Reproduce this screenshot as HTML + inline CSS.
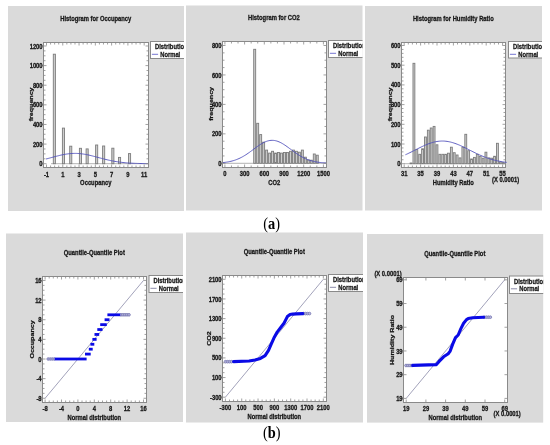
<!DOCTYPE html>
<html><head><meta charset="utf-8"><title>Histograms and Q-Q plots</title>
<style>html,body{margin:0;padding:0;background:#fff;width:550px;height:445px;overflow:hidden}svg{display:block;filter:blur(0.3px)}</style>
</head><body>
<svg width="550" height="445" viewBox="0 0 550 445"><defs><clipPath id="c1"><rect x="8" y="6" width="176" height="205"/></clipPath><clipPath id="c2"><rect x="186" y="5.5" width="176.5" height="205"/></clipPath><clipPath id="c3"><rect x="365" y="6" width="177" height="204.5"/></clipPath><clipPath id="qL4"><rect x="42.5" y="276.5" width="104" height="126"/></clipPath><clipPath id="L4"><rect x="6" y="233.5" width="177" height="188.5"/></clipPath><clipPath id="qL5"><rect x="222.5" y="275.5" width="104" height="126"/></clipPath><clipPath id="L5"><rect x="186" y="232.5" width="177" height="190"/></clipPath><clipPath id="qL6"><rect x="403.5" y="277.5" width="104" height="125"/></clipPath><clipPath id="L6"><rect x="367" y="234" width="176.2" height="188.6"/></clipPath></defs><rect width="550" height="445" fill="#fff"/><style>.t text{stroke:#161616;stroke-width:0.28px}</style><g class="t" font-family="'Liberation Sans', Arial, sans-serif" font-weight="bold" fill="#161616"><rect x="8" y="6" width="176" height="205" fill="#dadada"/>
<text transform="translate(95.8 20.6) scale(0.82 1)" text-anchor="middle" font-size="7.1">Histogram for Occupancy</text>
<rect x="43.5" y="42.5" width="105" height="125" fill="#fff" stroke="#8a8a8a" stroke-width="1"/>
<path d="M51 163.7H148.5" stroke="#a0a0a0" stroke-width="0.8"/>
<rect x="53.3" y="54.2" width="2.1" height="109.5" fill="#cdcdcd" stroke="#7c7c7c" stroke-width="0.9"/>
<rect x="62.4" y="128.1" width="2.1" height="35.6" fill="#cdcdcd" stroke="#7c7c7c" stroke-width="0.9"/>
<rect x="69.7" y="146.2" width="2.1" height="17.5" fill="#cdcdcd" stroke="#7c7c7c" stroke-width="0.9"/>
<rect x="79.4" y="148.3" width="2.1" height="15.4" fill="#cdcdcd" stroke="#7c7c7c" stroke-width="0.9"/>
<rect x="86.1" y="148.9" width="2.1" height="14.8" fill="#cdcdcd" stroke="#7c7c7c" stroke-width="0.9"/>
<rect x="95.6" y="145" width="2.1" height="18.7" fill="#cdcdcd" stroke="#7c7c7c" stroke-width="0.9"/>
<rect x="102.6" y="146" width="2.1" height="17.7" fill="#cdcdcd" stroke="#7c7c7c" stroke-width="0.9"/>
<rect x="111.8" y="148.2" width="2.1" height="15.5" fill="#cdcdcd" stroke="#7c7c7c" stroke-width="0.9"/>
<rect x="118.5" y="157.4" width="2.1" height="6.3" fill="#cdcdcd" stroke="#7c7c7c" stroke-width="0.9"/>
<rect x="128.5" y="153.6" width="2.1" height="10.1" fill="#cdcdcd" stroke="#7c7c7c" stroke-width="0.9"/>
<path d="M46.09 158.98 L47.22 158.69 L48.35 158.4 L49.48 158.1 L50.61 157.79 L51.74 157.49 L52.87 157.18 L54 156.88 L55.13 156.58 L56.26 156.28 L57.39 155.99 L58.52 155.71 L59.65 155.43 L60.78 155.17 L61.91 154.92 L63.04 154.69 L64.17 154.47 L65.3 154.27 L66.43 154.08 L67.56 153.92 L68.69 153.77 L69.82 153.65 L70.95 153.56 L72.08 153.48 L73.21 153.43 L74.34 153.4 L75.48 153.4 L76.61 153.42 L77.74 153.47 L78.87 153.54 L80 153.64 L81.13 153.76 L82.26 153.9 L83.39 154.06 L84.52 154.24 L85.65 154.44 L86.78 154.65 L87.91 154.89 L89.04 155.14 L90.17 155.4 L91.3 155.67 L92.43 155.95 L93.56 156.24 L94.69 156.53 L95.82 156.84 L96.95 157.14 L98.08 157.44 L99.21 157.75 L100.34 158.05 L101.47 158.35 L102.6 158.65 L103.73 158.94 L104.86 159.23 L105.99 159.51 L107.12 159.78 L108.25 160.04 L109.38 160.29 L110.51 160.54 L111.64 160.77 L112.77 160.99 L113.9 161.2 L115.03 161.4 L116.16 161.59 L117.29 161.77 L118.42 161.94 L119.55 162.09 L120.68 162.24 L121.81 162.37 L122.94 162.5 L124.07 162.62 L125.2 162.73 L126.33 162.83 L127.46 162.92 L128.59 163 L129.72 163.08 L130.85 163.14 L131.98 163.21 L133.11 163.26 L134.24 163.31 L135.37 163.36 L136.5 163.4 L137.63 163.44 L138.76 163.47 L139.89 163.5 L141.02 163.53 L142.15 163.55 L143.28 163.57 L144.41 163.59 L145.54 163.6 L146.67 163.62 L147.8 163.63" stroke="#5050bb" stroke-width="0.9" fill="none"/>
<path d="M42 163.7h4.5M148.5 163.7h-3M42 144.08h4.5M148.5 144.08h-3M42 124.46h4.5M148.5 124.46h-3M42 104.84h4.5M148.5 104.84h-3M42 85.22h4.5M148.5 85.22h-3M42 65.6h4.5M148.5 65.6h-3M42 45.98h4.5M148.5 45.98h-3M43.5 158.79h2M148.5 158.79h-2M43.5 153.89h2M148.5 153.89h-2M43.5 148.98h2M148.5 148.98h-2M43.5 139.17h2M148.5 139.17h-2M43.5 134.27h2M148.5 134.27h-2M43.5 129.36h2M148.5 129.36h-2M43.5 119.55h2M148.5 119.55h-2M43.5 114.65h2M148.5 114.65h-2M43.5 109.74h2M148.5 109.74h-2M43.5 99.93h2M148.5 99.93h-2M43.5 95.03h2M148.5 95.03h-2M43.5 90.12h2M148.5 90.12h-2M43.5 80.31h2M148.5 80.31h-2M43.5 75.41h2M148.5 75.41h-2M43.5 70.5h2M148.5 70.5h-2M43.5 60.69h2M148.5 60.69h-2M43.5 55.79h2M148.5 55.79h-2M43.5 50.88h2M148.5 50.88h-2M46.5 167.5v-3M46.5 42.5v3M62.78 167.5v-3M62.78 42.5v3M79.06 167.5v-3M79.06 42.5v3M95.34 167.5v-3M95.34 42.5v3M111.62 167.5v-3M111.62 42.5v3M127.9 167.5v-3M127.9 42.5v3M144.18 167.5v-3M144.18 42.5v3M50.57 167.5v-2M50.57 42.5v2M54.64 167.5v-2M54.64 42.5v2M58.71 167.5v-2M58.71 42.5v2M66.85 167.5v-2M66.85 42.5v2M70.92 167.5v-2M70.92 42.5v2M74.99 167.5v-2M74.99 42.5v2M83.13 167.5v-2M83.13 42.5v2M87.2 167.5v-2M87.2 42.5v2M91.27 167.5v-2M91.27 42.5v2M99.41 167.5v-2M99.41 42.5v2M103.48 167.5v-2M103.48 42.5v2M107.55 167.5v-2M107.55 42.5v2M115.69 167.5v-2M115.69 42.5v2M119.76 167.5v-2M119.76 42.5v2M123.83 167.5v-2M123.83 42.5v2M131.97 167.5v-2M131.97 42.5v2M136.04 167.5v-2M136.04 42.5v2M140.11 167.5v-2M140.11 42.5v2" stroke="#8a8a8a" stroke-width="0.8" fill="none"/>
<text transform="translate(42.6 166.25) scale(0.82 1)" text-anchor="end" font-size="7.1">0</text>
<text transform="translate(42.6 146.63) scale(0.82 1)" text-anchor="end" font-size="7.1">200</text>
<text transform="translate(42.6 127.01) scale(0.82 1)" text-anchor="end" font-size="7.1">400</text>
<text transform="translate(42.6 107.39) scale(0.82 1)" text-anchor="end" font-size="7.1">600</text>
<text transform="translate(42.6 87.77) scale(0.82 1)" text-anchor="end" font-size="7.1">800</text>
<text transform="translate(42.6 68.15) scale(0.82 1)" text-anchor="end" font-size="7.1">1000</text>
<text transform="translate(42.6 48.53) scale(0.82 1)" text-anchor="end" font-size="7.1">1200</text>
<text transform="translate(46.5 176.6) scale(0.82 1)" text-anchor="middle" font-size="7.1">-1</text>
<text transform="translate(62.78 176.6) scale(0.82 1)" text-anchor="middle" font-size="7.1">1</text>
<text transform="translate(79.06 176.6) scale(0.82 1)" text-anchor="middle" font-size="7.1">3</text>
<text transform="translate(95.34 176.6) scale(0.82 1)" text-anchor="middle" font-size="7.1">5</text>
<text transform="translate(111.62 176.6) scale(0.82 1)" text-anchor="middle" font-size="7.1">7</text>
<text transform="translate(127.9 176.6) scale(0.82 1)" text-anchor="middle" font-size="7.1">9</text>
<text transform="translate(144.18 176.6) scale(0.82 1)" text-anchor="middle" font-size="7.1">11</text>
<text transform="translate(95.8 185.1) scale(0.82 1)" text-anchor="middle" font-size="7.1">Occupancy</text>
<text transform="translate(33.2 104.4) rotate(-90) scale(1 0.82)" text-anchor="middle" font-size="7.1">frequency</text>
<g clip-path="url(#c1)">
<rect x="150.5" y="41.5" width="43.5" height="17" fill="#fff" stroke="#8a8a8a" stroke-width="1"/>
<text transform="translate(155 49.1) scale(0.82 1)" text-anchor="start" font-size="7.1">Distribution</text>
<path d="M151.9 54.3h6.2" stroke="#7676d2" stroke-width="1"/>
<text transform="translate(160.2 56.5) scale(0.82 1)" text-anchor="start" font-size="7.1">Normal</text>
</g>
<rect x="186" y="5.5" width="176.5" height="205" fill="#dadada"/>
<text transform="translate(273.9 19.9) scale(0.82 1)" text-anchor="middle" font-size="7.1">Histogram for CO2</text>
<rect x="222.5" y="41.5" width="104" height="126" fill="#fff" stroke="#8a8a8a" stroke-width="1"/>
<path d="M222.5 163.3H326.5" stroke="#a0a0a0" stroke-width="0.8"/>
<rect x="253.7" y="49.3" width="1.98" height="114" fill="#cdcdcd" stroke="#7c7c7c" stroke-width="0.9"/>
<rect x="256.68" y="123.3" width="1.98" height="40" fill="#cdcdcd" stroke="#7c7c7c" stroke-width="0.9"/>
<rect x="259.66" y="134.6" width="1.98" height="28.7" fill="#cdcdcd" stroke="#7c7c7c" stroke-width="0.9"/>
<rect x="262.64" y="142.2" width="1.98" height="21.1" fill="#cdcdcd" stroke="#7c7c7c" stroke-width="0.9"/>
<rect x="265.62" y="150.1" width="1.98" height="13.2" fill="#cdcdcd" stroke="#7c7c7c" stroke-width="0.9"/>
<rect x="268.6" y="153.1" width="1.98" height="10.2" fill="#cdcdcd" stroke="#7c7c7c" stroke-width="0.9"/>
<rect x="271.58" y="151.3" width="1.98" height="12" fill="#cdcdcd" stroke="#7c7c7c" stroke-width="0.9"/>
<rect x="274.56" y="153.1" width="1.98" height="10.2" fill="#cdcdcd" stroke="#7c7c7c" stroke-width="0.9"/>
<rect x="277.54" y="152.5" width="1.98" height="10.8" fill="#cdcdcd" stroke="#7c7c7c" stroke-width="0.9"/>
<rect x="280.52" y="153.1" width="1.98" height="10.2" fill="#cdcdcd" stroke="#7c7c7c" stroke-width="0.9"/>
<rect x="283.5" y="152.5" width="1.98" height="10.8" fill="#cdcdcd" stroke="#7c7c7c" stroke-width="0.9"/>
<rect x="286.48" y="152.5" width="1.98" height="10.8" fill="#cdcdcd" stroke="#7c7c7c" stroke-width="0.9"/>
<rect x="289.46" y="151.3" width="1.98" height="12" fill="#cdcdcd" stroke="#7c7c7c" stroke-width="0.9"/>
<rect x="292.44" y="150.1" width="1.98" height="13.2" fill="#cdcdcd" stroke="#7c7c7c" stroke-width="0.9"/>
<rect x="295.42" y="151.3" width="1.98" height="12" fill="#cdcdcd" stroke="#7c7c7c" stroke-width="0.9"/>
<rect x="298.4" y="152.2" width="1.98" height="11.1" fill="#cdcdcd" stroke="#7c7c7c" stroke-width="0.9"/>
<rect x="301.38" y="150.1" width="1.98" height="13.2" fill="#cdcdcd" stroke="#7c7c7c" stroke-width="0.9"/>
<rect x="304.36" y="157.2" width="1.98" height="6.1" fill="#cdcdcd" stroke="#7c7c7c" stroke-width="0.9"/>
<rect x="307.34" y="160" width="1.98" height="3.3" fill="#cdcdcd" stroke="#7c7c7c" stroke-width="0.9"/>
<rect x="310.32" y="160.2" width="1.98" height="3.1" fill="#cdcdcd" stroke="#7c7c7c" stroke-width="0.9"/>
<rect x="313.3" y="154" width="1.98" height="9.3" fill="#cdcdcd" stroke="#7c7c7c" stroke-width="0.9"/>
<rect x="316.28" y="155.2" width="1.98" height="8.1" fill="#cdcdcd" stroke="#7c7c7c" stroke-width="0.9"/>
<path d="M222.93 162.59 L224.08 162.47 L225.22 162.33 L226.37 162.17 L227.51 161.98 L228.66 161.78 L229.8 161.55 L230.95 161.29 L232.09 161 L233.24 160.68 L234.39 160.33 L235.53 159.95 L236.68 159.52 L237.82 159.06 L238.97 158.57 L240.11 158.03 L241.26 157.46 L242.4 156.84 L243.55 156.19 L244.69 155.51 L245.84 154.79 L246.99 154.03 L248.13 153.25 L249.28 152.45 L250.42 151.62 L251.57 150.78 L252.71 149.93 L253.86 149.07 L255 148.22 L256.15 147.38 L257.3 146.55 L258.44 145.74 L259.59 144.97 L260.73 144.23 L261.88 143.54 L263.02 142.9 L264.17 142.32 L265.31 141.81 L266.46 141.36 L267.61 140.99 L268.75 140.7 L269.9 140.49 L271.04 140.37 L272.19 140.33 L273.33 140.38 L274.48 140.51 L275.62 140.73 L276.77 141.03 L277.91 141.41 L279.06 141.87 L280.21 142.39 L281.35 142.98 L282.5 143.63 L283.64 144.32 L284.79 145.07 L285.93 145.84 L287.08 146.65 L288.22 147.48 L289.37 148.33 L290.52 149.18 L291.66 150.04 L292.81 150.89 L293.95 151.73 L295.1 152.55 L296.24 153.35 L297.39 154.13 L298.53 154.88 L299.68 155.6 L300.83 156.28 L301.97 156.92 L303.12 157.53 L304.26 158.1 L305.41 158.63 L306.55 159.12 L307.7 159.58 L308.84 160 L309.99 160.38 L311.13 160.73 L312.28 161.04 L313.43 161.32 L314.57 161.58 L315.72 161.81 L316.86 162.01 L318.01 162.19 L319.15 162.35 L320.3 162.48 L321.44 162.61 L322.59 162.71 L323.74 162.8 L324.88 162.88 L326.03 162.95" stroke="#5050bb" stroke-width="0.9" fill="none"/>
<path d="M221 163.3h4.5M326.5 163.3h-3M221 133.85h4.5M326.5 133.85h-3M221 104.4h4.5M326.5 104.4h-3M221 74.95h4.5M326.5 74.95h-3M221 45.5h4.5M326.5 45.5h-3M222.5 155.94h2M326.5 155.94h-2M222.5 148.58h2M326.5 148.58h-2M222.5 141.21h2M326.5 141.21h-2M222.5 126.49h2M326.5 126.49h-2M222.5 119.13h2M326.5 119.13h-2M222.5 111.76h2M326.5 111.76h-2M222.5 97.04h2M326.5 97.04h-2M222.5 89.68h2M326.5 89.68h-2M222.5 82.31h2M326.5 82.31h-2M222.5 67.59h2M326.5 67.59h-2M222.5 60.23h2M326.5 60.23h-2M222.5 52.86h2M326.5 52.86h-2M224.9 167.5v-3M224.9 41.5v3M244.6 167.5v-3M244.6 41.5v3M264.3 167.5v-3M264.3 41.5v3M284 167.5v-3M284 41.5v3M303.7 167.5v-3M303.7 41.5v3M323.4 167.5v-3M323.4 41.5v3M231.47 167.5v-2M231.47 41.5v2M238.03 167.5v-2M238.03 41.5v2M251.17 167.5v-2M251.17 41.5v2M257.73 167.5v-2M257.73 41.5v2M270.87 167.5v-2M270.87 41.5v2M277.43 167.5v-2M277.43 41.5v2M290.57 167.5v-2M290.57 41.5v2M297.13 167.5v-2M297.13 41.5v2M310.27 167.5v-2M310.27 41.5v2M316.83 167.5v-2M316.83 41.5v2" stroke="#8a8a8a" stroke-width="0.8" fill="none"/>
<text transform="translate(221.6 165.85) scale(0.82 1)" text-anchor="end" font-size="7.1">0</text>
<text transform="translate(221.6 136.4) scale(0.82 1)" text-anchor="end" font-size="7.1">200</text>
<text transform="translate(221.6 106.95) scale(0.82 1)" text-anchor="end" font-size="7.1">400</text>
<text transform="translate(221.6 77.5) scale(0.82 1)" text-anchor="end" font-size="7.1">600</text>
<text transform="translate(221.6 48.05) scale(0.82 1)" text-anchor="end" font-size="7.1">800</text>
<text transform="translate(224.9 176) scale(0.82 1)" text-anchor="middle" font-size="7.1">0</text>
<text transform="translate(244.6 176) scale(0.82 1)" text-anchor="middle" font-size="7.1">300</text>
<text transform="translate(264.3 176) scale(0.82 1)" text-anchor="middle" font-size="7.1">600</text>
<text transform="translate(284 176) scale(0.82 1)" text-anchor="middle" font-size="7.1">900</text>
<text transform="translate(303.7 176) scale(0.82 1)" text-anchor="middle" font-size="7.1">1200</text>
<text transform="translate(323.4 176) scale(0.82 1)" text-anchor="middle" font-size="7.1">1500</text>
<text transform="translate(274.3 184.5) scale(0.82 1)" text-anchor="middle" font-size="7.1">CO2</text>
<text transform="translate(212.8 103.9) rotate(-90) scale(1 0.82)" text-anchor="middle" font-size="7.1">frequency</text>
<g clip-path="url(#c2)">
<rect x="328.5" y="40.5" width="44" height="17" fill="#fff" stroke="#8a8a8a" stroke-width="1"/>
<text transform="translate(333 48.1) scale(0.82 1)" text-anchor="start" font-size="7.1">Distribution</text>
<path d="M329.9 53.3h6.2" stroke="#7676d2" stroke-width="1"/>
<text transform="translate(338.2 55.5) scale(0.82 1)" text-anchor="start" font-size="7.1">Normal</text>
</g>
<rect x="365" y="6" width="177" height="204.5" fill="#dadada"/>
<text transform="translate(453.3 20.6) scale(0.82 1)" text-anchor="middle" font-size="7.1">Histogram for Humidity Ratio</text>
<rect x="401.5" y="42.5" width="104" height="125" fill="#fff" stroke="#8a8a8a" stroke-width="1"/>
<path d="M404 163.7H505.5" stroke="#a0a0a0" stroke-width="0.8"/>
<rect x="410.1" y="163" width="1.88" height="0.7" fill="#cdcdcd" stroke="#7c7c7c" stroke-width="0.9"/>
<rect x="412.98" y="63.3" width="1.88" height="100.4" fill="#cdcdcd" stroke="#7c7c7c" stroke-width="0.9"/>
<rect x="415.86" y="149.6" width="1.88" height="14.1" fill="#cdcdcd" stroke="#7c7c7c" stroke-width="0.9"/>
<rect x="418.74" y="154.3" width="1.88" height="9.4" fill="#cdcdcd" stroke="#7c7c7c" stroke-width="0.9"/>
<rect x="421.62" y="148.8" width="1.88" height="14.9" fill="#cdcdcd" stroke="#7c7c7c" stroke-width="0.9"/>
<rect x="424.5" y="137" width="1.88" height="26.7" fill="#cdcdcd" stroke="#7c7c7c" stroke-width="0.9"/>
<rect x="427.38" y="130.2" width="1.88" height="33.5" fill="#cdcdcd" stroke="#7c7c7c" stroke-width="0.9"/>
<rect x="430.26" y="128" width="1.88" height="35.7" fill="#cdcdcd" stroke="#7c7c7c" stroke-width="0.9"/>
<rect x="433.14" y="126.4" width="1.88" height="37.3" fill="#cdcdcd" stroke="#7c7c7c" stroke-width="0.9"/>
<rect x="436.02" y="144.8" width="1.88" height="18.9" fill="#cdcdcd" stroke="#7c7c7c" stroke-width="0.9"/>
<rect x="438.9" y="154.3" width="1.88" height="9.4" fill="#cdcdcd" stroke="#7c7c7c" stroke-width="0.9"/>
<rect x="441.78" y="154.3" width="1.88" height="9.4" fill="#cdcdcd" stroke="#7c7c7c" stroke-width="0.9"/>
<rect x="444.66" y="154.3" width="1.88" height="9.4" fill="#cdcdcd" stroke="#7c7c7c" stroke-width="0.9"/>
<rect x="447.54" y="153.2" width="1.88" height="10.5" fill="#cdcdcd" stroke="#7c7c7c" stroke-width="0.9"/>
<rect x="450.42" y="147.2" width="1.88" height="16.5" fill="#cdcdcd" stroke="#7c7c7c" stroke-width="0.9"/>
<rect x="453.3" y="152.7" width="1.88" height="11" fill="#cdcdcd" stroke="#7c7c7c" stroke-width="0.9"/>
<rect x="456.18" y="155" width="1.88" height="8.7" fill="#cdcdcd" stroke="#7c7c7c" stroke-width="0.9"/>
<rect x="459.06" y="157.9" width="1.88" height="5.8" fill="#cdcdcd" stroke="#7c7c7c" stroke-width="0.9"/>
<rect x="461.94" y="147.2" width="1.88" height="16.5" fill="#cdcdcd" stroke="#7c7c7c" stroke-width="0.9"/>
<rect x="464.82" y="134.3" width="1.88" height="29.4" fill="#cdcdcd" stroke="#7c7c7c" stroke-width="0.9"/>
<rect x="467.7" y="150.7" width="1.88" height="13" fill="#cdcdcd" stroke="#7c7c7c" stroke-width="0.9"/>
<rect x="470.58" y="159" width="1.88" height="4.7" fill="#cdcdcd" stroke="#7c7c7c" stroke-width="0.9"/>
<rect x="473.46" y="157.4" width="1.88" height="6.3" fill="#cdcdcd" stroke="#7c7c7c" stroke-width="0.9"/>
<rect x="476.34" y="154.3" width="1.88" height="9.4" fill="#cdcdcd" stroke="#7c7c7c" stroke-width="0.9"/>
<rect x="479.22" y="156.3" width="1.88" height="7.4" fill="#cdcdcd" stroke="#7c7c7c" stroke-width="0.9"/>
<rect x="482.1" y="158.2" width="1.88" height="5.5" fill="#cdcdcd" stroke="#7c7c7c" stroke-width="0.9"/>
<rect x="484.98" y="152.2" width="1.88" height="11.5" fill="#cdcdcd" stroke="#7c7c7c" stroke-width="0.9"/>
<rect x="487.86" y="157.9" width="1.88" height="5.8" fill="#cdcdcd" stroke="#7c7c7c" stroke-width="0.9"/>
<rect x="490.74" y="158.2" width="1.88" height="5.5" fill="#cdcdcd" stroke="#7c7c7c" stroke-width="0.9"/>
<rect x="493.62" y="156.3" width="1.88" height="7.4" fill="#cdcdcd" stroke="#7c7c7c" stroke-width="0.9"/>
<rect x="496.5" y="143.3" width="1.88" height="20.4" fill="#cdcdcd" stroke="#7c7c7c" stroke-width="0.9"/>
<rect x="499.38" y="162" width="1.88" height="1.7" fill="#cdcdcd" stroke="#7c7c7c" stroke-width="0.9"/>
<rect x="502.26" y="162.6" width="1.88" height="1.1" fill="#cdcdcd" stroke="#7c7c7c" stroke-width="0.9"/>
<path d="M405.43 154.76 L406.56 154.25 L407.68 153.72 L408.81 153.18 L409.93 152.64 L411.06 152.08 L412.18 151.52 L413.31 150.95 L414.43 150.38 L415.56 149.81 L416.68 149.24 L417.81 148.67 L418.93 148.11 L420.06 147.55 L421.18 147.01 L422.31 146.47 L423.43 145.95 L424.56 145.44 L425.68 144.95 L426.81 144.48 L427.93 144.03 L429.06 143.61 L430.18 143.22 L431.31 142.85 L432.44 142.51 L433.56 142.2 L434.69 141.93 L435.81 141.69 L436.94 141.49 L438.06 141.33 L439.19 141.2 L440.31 141.11 L441.44 141.06 L442.56 141.05 L443.69 141.07 L444.81 141.14 L445.94 141.25 L447.06 141.39 L448.19 141.57 L449.31 141.79 L450.44 142.04 L451.56 142.33 L452.69 142.65 L453.81 143 L454.94 143.38 L456.06 143.78 L457.19 144.22 L458.32 144.67 L459.44 145.15 L460.57 145.65 L461.69 146.16 L462.82 146.69 L463.94 147.23 L465.07 147.78 L466.19 148.34 L467.32 148.91 L468.44 149.48 L469.57 150.05 L470.69 150.62 L471.82 151.19 L472.94 151.75 L474.07 152.31 L475.19 152.86 L476.32 153.41 L477.44 153.94 L478.57 154.46 L479.69 154.97 L480.82 155.46 L481.95 155.94 L483.07 156.41 L484.2 156.85 L485.32 157.29 L486.45 157.7 L487.57 158.1 L488.7 158.48 L489.82 158.84 L490.95 159.19 L492.07 159.52 L493.2 159.83 L494.32 160.12 L495.45 160.4 L496.57 160.66 L497.7 160.91 L498.82 161.14 L499.95 161.35 L501.07 161.55 L502.2 161.74 L503.32 161.91 L504.45 162.08 L505.57 162.22 L506.7 162.36" stroke="#5050bb" stroke-width="0.9" fill="none"/>
<path d="M400 163.7h4.5M505.5 163.7h-3M400 144h4.5M505.5 144h-3M400 124.3h4.5M505.5 124.3h-3M400 104.6h4.5M505.5 104.6h-3M400 84.9h4.5M505.5 84.9h-3M400 65.2h4.5M505.5 65.2h-3M400 45.5h4.5M505.5 45.5h-3M401.5 159.76h2M505.5 159.76h-2M401.5 155.82h2M505.5 155.82h-2M401.5 151.88h2M505.5 151.88h-2M401.5 147.94h2M505.5 147.94h-2M401.5 140.06h2M505.5 140.06h-2M401.5 136.12h2M505.5 136.12h-2M401.5 132.18h2M505.5 132.18h-2M401.5 128.24h2M505.5 128.24h-2M401.5 120.36h2M505.5 120.36h-2M401.5 116.42h2M505.5 116.42h-2M401.5 112.48h2M505.5 112.48h-2M401.5 108.54h2M505.5 108.54h-2M401.5 100.66h2M505.5 100.66h-2M401.5 96.72h2M505.5 96.72h-2M401.5 92.78h2M505.5 92.78h-2M401.5 88.84h2M505.5 88.84h-2M401.5 80.96h2M505.5 80.96h-2M401.5 77.02h2M505.5 77.02h-2M401.5 73.08h2M505.5 73.08h-2M401.5 69.14h2M505.5 69.14h-2M401.5 61.26h2M505.5 61.26h-2M401.5 57.32h2M505.5 57.32h-2M401.5 53.38h2M505.5 53.38h-2M401.5 49.44h2M505.5 49.44h-2M404.2 167.5v-3M404.2 42.5v3M420.6 167.5v-3M420.6 42.5v3M437 167.5v-3M437 42.5v3M453.4 167.5v-3M453.4 42.5v3M469.8 167.5v-3M469.8 42.5v3M486.2 167.5v-3M486.2 42.5v3M502.6 167.5v-3M502.6 42.5v3M408.3 167.5v-2M408.3 42.5v2M412.4 167.5v-2M412.4 42.5v2M416.5 167.5v-2M416.5 42.5v2M424.7 167.5v-2M424.7 42.5v2M428.8 167.5v-2M428.8 42.5v2M432.9 167.5v-2M432.9 42.5v2M441.1 167.5v-2M441.1 42.5v2M445.2 167.5v-2M445.2 42.5v2M449.3 167.5v-2M449.3 42.5v2M457.5 167.5v-2M457.5 42.5v2M461.6 167.5v-2M461.6 42.5v2M465.7 167.5v-2M465.7 42.5v2M473.9 167.5v-2M473.9 42.5v2M478 167.5v-2M478 42.5v2M482.1 167.5v-2M482.1 42.5v2M490.3 167.5v-2M490.3 42.5v2M494.4 167.5v-2M494.4 42.5v2M498.5 167.5v-2M498.5 42.5v2" stroke="#8a8a8a" stroke-width="0.8" fill="none"/>
<text transform="translate(400.6 166.25) scale(0.82 1)" text-anchor="end" font-size="7.1">0</text>
<text transform="translate(400.6 146.55) scale(0.82 1)" text-anchor="end" font-size="7.1">100</text>
<text transform="translate(400.6 126.85) scale(0.82 1)" text-anchor="end" font-size="7.1">200</text>
<text transform="translate(400.6 107.15) scale(0.82 1)" text-anchor="end" font-size="7.1">300</text>
<text transform="translate(400.6 87.45) scale(0.82 1)" text-anchor="end" font-size="7.1">400</text>
<text transform="translate(400.6 67.75) scale(0.82 1)" text-anchor="end" font-size="7.1">500</text>
<text transform="translate(400.6 48.05) scale(0.82 1)" text-anchor="end" font-size="7.1">600</text>
<text transform="translate(404.2 176) scale(0.82 1)" text-anchor="middle" font-size="7.1">31</text>
<text transform="translate(420.6 176) scale(0.82 1)" text-anchor="middle" font-size="7.1">35</text>
<text transform="translate(437 176) scale(0.82 1)" text-anchor="middle" font-size="7.1">39</text>
<text transform="translate(453.4 176) scale(0.82 1)" text-anchor="middle" font-size="7.1">43</text>
<text transform="translate(469.8 176) scale(0.82 1)" text-anchor="middle" font-size="7.1">47</text>
<text transform="translate(486.2 176) scale(0.82 1)" text-anchor="middle" font-size="7.1">51</text>
<text transform="translate(502.6 176) scale(0.82 1)" text-anchor="middle" font-size="7.1">55</text>
<text transform="translate(453.3 184.5) scale(0.82 1)" text-anchor="middle" font-size="7.1">Humidity Ratio</text>
<text transform="translate(392.3 104.4) rotate(-90) scale(1 0.82)" text-anchor="middle" font-size="7.1">frequency</text>
<g clip-path="url(#c3)">
<rect x="508.5" y="41.5" width="43.5" height="16.5" fill="#fff" stroke="#8a8a8a" stroke-width="1"/>
<text transform="translate(513 49.1) scale(0.82 1)" text-anchor="start" font-size="7.1">Distribution</text>
<path d="M509.9 54.3h6.2" stroke="#7676d2" stroke-width="1"/>
<text transform="translate(518.2 56.5) scale(0.82 1)" text-anchor="start" font-size="7.1">Normal</text>
</g>
<text transform="translate(505.6 181.7) scale(0.82 1)" text-anchor="middle" font-size="7.1">(X 0.0001)</text>
<rect x="6" y="233.5" width="177" height="188.5" fill="#dadada"/>
<text transform="translate(94.3 254.9) scale(0.82 1)" text-anchor="middle" font-size="7.1">Quantile-Quantile Plot</text>
<rect x="42.5" y="276.5" width="104" height="126" fill="#fff" stroke="#8a8a8a" stroke-width="1"/>
<g clip-path="url(#qL4)">
<path d="M45.1 398.28L143.5 280.44" stroke="#8a8aa8" stroke-width="0.8"/>
<g fill="#b8b8e0" stroke="#6a6aa8" stroke-width="0.7"><circle cx="48.2" cy="359" r="1.35"/><circle cx="50.2" cy="359" r="1.35"/><circle cx="52.2" cy="359" r="1.35"/><circle cx="54.2" cy="359" r="1.35"/></g>
<g fill="#b8b8e0" stroke="#6a6aa8" stroke-width="0.7"><circle cx="121" cy="314.81" r="1.35"/><circle cx="123" cy="314.81" r="1.35"/><circle cx="125" cy="314.81" r="1.35"/><circle cx="127" cy="314.81" r="1.35"/><circle cx="129" cy="314.81" r="1.35"/></g>
<rect x="54.7" y="357.6" width="31.9" height="2.8" fill="#0a0ae6"/>
<rect x="85" y="352.69" width="5.7" height="2.8" fill="#0a0ae6"/>
<rect x="88.8" y="347.78" width="3.9" height="2.8" fill="#0a0ae6"/>
<rect x="90.4" y="342.87" width="3.9" height="2.8" fill="#0a0ae6"/>
<rect x="92.4" y="337.96" width="4.2" height="2.8" fill="#0a0ae6"/>
<rect x="94.5" y="333.05" width="4.7" height="2.8" fill="#0a0ae6"/>
<rect x="97.3" y="328.14" width="5.2" height="2.8" fill="#0a0ae6"/>
<rect x="100.2" y="323.23" width="6.6" height="2.8" fill="#0a0ae6"/>
<rect x="104.6" y="318.32" width="4.9" height="2.8" fill="#0a0ae6"/>
<rect x="107.4" y="313.41" width="12.8" height="2.8" fill="#0a0ae6"/>
</g>
<path d="M41 280.44h4.5M146.5 280.44h-3M41 300.08h4.5M146.5 300.08h-3M41 319.72h4.5M146.5 319.72h-3M41 339.36h4.5M146.5 339.36h-3M41 359h4.5M146.5 359h-3M41 378.64h4.5M146.5 378.64h-3M41 398.28h4.5M146.5 398.28h-3M42.5 393.37h2M146.5 393.37h-2M42.5 388.46h2M146.5 388.46h-2M42.5 383.55h2M146.5 383.55h-2M42.5 373.73h2M146.5 373.73h-2M42.5 368.82h2M146.5 368.82h-2M42.5 363.91h2M146.5 363.91h-2M42.5 354.09h2M146.5 354.09h-2M42.5 349.18h2M146.5 349.18h-2M42.5 344.27h2M146.5 344.27h-2M42.5 334.45h2M146.5 334.45h-2M42.5 329.54h2M146.5 329.54h-2M42.5 324.63h2M146.5 324.63h-2M42.5 314.81h2M146.5 314.81h-2M42.5 309.9h2M146.5 309.9h-2M42.5 304.99h2M146.5 304.99h-2M42.5 295.17h2M146.5 295.17h-2M42.5 290.26h2M146.5 290.26h-2M42.5 285.35h2M146.5 285.35h-2M45.1 402.5v-3M45.1 276.5v3M61.5 402.5v-3M61.5 276.5v3M77.9 402.5v-3M77.9 276.5v3M94.3 402.5v-3M94.3 276.5v3M110.7 402.5v-3M110.7 276.5v3M127.1 402.5v-3M127.1 276.5v3M143.5 402.5v-3M143.5 276.5v3M49.2 402.5v-2M49.2 276.5v2M53.3 402.5v-2M53.3 276.5v2M57.4 402.5v-2M57.4 276.5v2M65.6 402.5v-2M65.6 276.5v2M69.7 402.5v-2M69.7 276.5v2M73.8 402.5v-2M73.8 276.5v2M82 402.5v-2M82 276.5v2M86.1 402.5v-2M86.1 276.5v2M90.2 402.5v-2M90.2 276.5v2M98.4 402.5v-2M98.4 276.5v2M102.5 402.5v-2M102.5 276.5v2M106.6 402.5v-2M106.6 276.5v2M114.8 402.5v-2M114.8 276.5v2M118.9 402.5v-2M118.9 276.5v2M123 402.5v-2M123 276.5v2M131.2 402.5v-2M131.2 276.5v2M135.3 402.5v-2M135.3 276.5v2M139.4 402.5v-2M139.4 276.5v2" stroke="#8a8a8a" stroke-width="0.8" fill="none"/>
<text transform="translate(41.6 282.99) scale(0.82 1)" text-anchor="end" font-size="7.1">16</text>
<text transform="translate(41.6 302.63) scale(0.82 1)" text-anchor="end" font-size="7.1">12</text>
<text transform="translate(41.6 322.27) scale(0.82 1)" text-anchor="end" font-size="7.1">8</text>
<text transform="translate(41.6 341.91) scale(0.82 1)" text-anchor="end" font-size="7.1">4</text>
<text transform="translate(41.6 361.55) scale(0.82 1)" text-anchor="end" font-size="7.1">0</text>
<text transform="translate(41.6 381.19) scale(0.82 1)" text-anchor="end" font-size="7.1">-4</text>
<text transform="translate(41.6 400.83) scale(0.82 1)" text-anchor="end" font-size="7.1">-8</text>
<text transform="translate(45.1 411) scale(0.82 1)" text-anchor="middle" font-size="7.1">-8</text>
<text transform="translate(61.5 411) scale(0.82 1)" text-anchor="middle" font-size="7.1">-4</text>
<text transform="translate(77.9 411) scale(0.82 1)" text-anchor="middle" font-size="7.1">0</text>
<text transform="translate(94.3 411) scale(0.82 1)" text-anchor="middle" font-size="7.1">4</text>
<text transform="translate(110.7 411) scale(0.82 1)" text-anchor="middle" font-size="7.1">8</text>
<text transform="translate(127.1 411) scale(0.82 1)" text-anchor="middle" font-size="7.1">12</text>
<text transform="translate(143.5 411) scale(0.82 1)" text-anchor="middle" font-size="7.1">16</text>
<text transform="translate(94.3 419.6) scale(0.82 1)" text-anchor="middle" font-size="7.1">Normal distribution</text>
<text transform="translate(34 339.5) rotate(-90) scale(1 0.82)" text-anchor="middle" font-size="7.1">Occupancy</text>
<g clip-path="url(#L4)">
<rect x="149" y="275.5" width="44" height="17" fill="#fff" stroke="#8a8a8a" stroke-width="1"/>
<text transform="translate(153.5 283.1) scale(0.82 1)" text-anchor="start" font-size="7.1">Distribution</text>
<path d="M150.4 288.3h6.2" stroke="#8a8aa8" stroke-width="1"/>
<text transform="translate(158.7 290.5) scale(0.82 1)" text-anchor="start" font-size="7.1">Normal</text>
</g>
<rect x="186" y="232.5" width="177" height="190" fill="#dadada"/>
<text transform="translate(274.3 254) scale(0.82 1)" text-anchor="middle" font-size="7.1">Quantile-Quantile Plot</text>
<rect x="222.5" y="275.5" width="104" height="126" fill="#fff" stroke="#8a8a8a" stroke-width="1"/>
<g clip-path="url(#qL5)">
<path d="M225.4 397.2L323.32 279.3" stroke="#8a8aa8" stroke-width="0.8"/>
<g fill="#b8b8e0" stroke="#6a6aa8" stroke-width="0.7"><circle cx="225.5" cy="361.7" r="1.35"/><circle cx="227.5" cy="361.7" r="1.35"/><circle cx="229.5" cy="361.7" r="1.35"/><circle cx="231.5" cy="361.7" r="1.35"/></g>
<g fill="#b8b8e0" stroke="#6a6aa8" stroke-width="0.7"><circle cx="303.5" cy="313.6" r="1.35"/><circle cx="305.5" cy="313.6" r="1.35"/><circle cx="307.5" cy="313.6" r="1.35"/><circle cx="309.5" cy="313.6" r="1.35"/></g>
<path d="M233.6 361.6 L249.1 361 L255 359.9 L260.4 358.4 L265.1 355.6 L268.5 350.3 L271.2 344.2 L273.9 338.1 L277.2 332.1 L281.3 326.7 L284 323.3 L285.7 319.9 L287.6 316.2 L290 314.6 L292.7 314.1 L296.4 313.9 L302.7 313.6" stroke="#0a0ae6" stroke-width="3.1" fill="none" stroke-linejoin="round" stroke-linecap="round"/>
</g>
<path d="M221 279.3h4.5M326.5 279.3h-3M221 298.95h4.5M326.5 298.95h-3M221 318.6h4.5M326.5 318.6h-3M221 338.25h4.5M326.5 338.25h-3M221 357.9h4.5M326.5 357.9h-3M221 377.55h4.5M326.5 377.55h-3M221 397.2h4.5M326.5 397.2h-3M222.5 392.29h2M326.5 392.29h-2M222.5 387.38h2M326.5 387.38h-2M222.5 382.46h2M326.5 382.46h-2M222.5 372.64h2M326.5 372.64h-2M222.5 367.72h2M326.5 367.72h-2M222.5 362.81h2M326.5 362.81h-2M222.5 352.99h2M326.5 352.99h-2M222.5 348.07h2M326.5 348.07h-2M222.5 343.16h2M326.5 343.16h-2M222.5 333.34h2M326.5 333.34h-2M222.5 328.42h2M326.5 328.42h-2M222.5 323.51h2M326.5 323.51h-2M222.5 313.69h2M326.5 313.69h-2M222.5 308.77h2M326.5 308.77h-2M222.5 303.86h2M326.5 303.86h-2M222.5 294.04h2M326.5 294.04h-2M222.5 289.12h2M326.5 289.12h-2M222.5 284.21h2M326.5 284.21h-2M225.4 401.5v-3M225.4 275.5v3M241.72 401.5v-3M241.72 275.5v3M258.04 401.5v-3M258.04 275.5v3M274.36 401.5v-3M274.36 275.5v3M290.68 401.5v-3M290.68 275.5v3M307 401.5v-3M307 275.5v3M323.32 401.5v-3M323.32 275.5v3M229.48 401.5v-2M229.48 275.5v2M233.56 401.5v-2M233.56 275.5v2M237.64 401.5v-2M237.64 275.5v2M245.8 401.5v-2M245.8 275.5v2M249.88 401.5v-2M249.88 275.5v2M253.96 401.5v-2M253.96 275.5v2M262.12 401.5v-2M262.12 275.5v2M266.2 401.5v-2M266.2 275.5v2M270.28 401.5v-2M270.28 275.5v2M278.44 401.5v-2M278.44 275.5v2M282.52 401.5v-2M282.52 275.5v2M286.6 401.5v-2M286.6 275.5v2M294.76 401.5v-2M294.76 275.5v2M298.84 401.5v-2M298.84 275.5v2M302.92 401.5v-2M302.92 275.5v2M311.08 401.5v-2M311.08 275.5v2M315.16 401.5v-2M315.16 275.5v2M319.24 401.5v-2M319.24 275.5v2" stroke="#8a8a8a" stroke-width="0.8" fill="none"/>
<text transform="translate(221.6 281.85) scale(0.82 1)" text-anchor="end" font-size="7.1">2100</text>
<text transform="translate(221.6 301.5) scale(0.82 1)" text-anchor="end" font-size="7.1">1700</text>
<text transform="translate(221.6 321.15) scale(0.82 1)" text-anchor="end" font-size="7.1">1300</text>
<text transform="translate(221.6 340.8) scale(0.82 1)" text-anchor="end" font-size="7.1">900</text>
<text transform="translate(221.6 360.45) scale(0.82 1)" text-anchor="end" font-size="7.1">500</text>
<text transform="translate(221.6 380.1) scale(0.82 1)" text-anchor="end" font-size="7.1">100</text>
<text transform="translate(221.6 399.75) scale(0.82 1)" text-anchor="end" font-size="7.1">-300</text>
<text transform="translate(225.4 410) scale(0.82 1)" text-anchor="middle" font-size="7.1">-300</text>
<text transform="translate(241.72 410) scale(0.82 1)" text-anchor="middle" font-size="7.1">100</text>
<text transform="translate(258.04 410) scale(0.82 1)" text-anchor="middle" font-size="7.1">500</text>
<text transform="translate(274.36 410) scale(0.82 1)" text-anchor="middle" font-size="7.1">900</text>
<text transform="translate(290.68 410) scale(0.82 1)" text-anchor="middle" font-size="7.1">1300</text>
<text transform="translate(307 410) scale(0.82 1)" text-anchor="middle" font-size="7.1">1700</text>
<text transform="translate(323.32 410) scale(0.82 1)" text-anchor="middle" font-size="7.1">2100</text>
<text transform="translate(274.3 418.6) scale(0.82 1)" text-anchor="middle" font-size="7.1">Normal distribution</text>
<text transform="translate(211.3 338.5) rotate(-90) scale(1 0.82)" text-anchor="middle" font-size="7.1">CO2</text>
<g clip-path="url(#L5)">
<rect x="328.5" y="274.5" width="44.5" height="17" fill="#fff" stroke="#8a8a8a" stroke-width="1"/>
<text transform="translate(333 282.1) scale(0.82 1)" text-anchor="start" font-size="7.1">Distribution</text>
<path d="M329.9 287.3h6.2" stroke="#8a8aa8" stroke-width="1"/>
<text transform="translate(338.2 289.5) scale(0.82 1)" text-anchor="start" font-size="7.1">Normal</text>
</g>
<rect x="367" y="234" width="176.2" height="188.6" fill="#dadada"/>
<text transform="translate(454.8 255.5) scale(0.82 1)" text-anchor="middle" font-size="7.1">Quantile-Quantile Plot</text>
<rect x="403.5" y="277.5" width="104" height="125" fill="#fff" stroke="#8a8a8a" stroke-width="1"/>
<g clip-path="url(#qL6)">
<path d="M406.2 398.4L504.7 279.8" stroke="#8a8aa8" stroke-width="0.8"/>
<g fill="#b8b8e0" stroke="#6a6aa8" stroke-width="0.7"><circle cx="406" cy="365.5" r="1.35"/><circle cx="408" cy="365.5" r="1.35"/><circle cx="410" cy="365.5" r="1.35"/><circle cx="412" cy="365.5" r="1.35"/></g>
<g fill="#b8b8e0" stroke="#6a6aa8" stroke-width="0.7"><circle cx="484.3" cy="317.2" r="1.35"/><circle cx="486.3" cy="317.2" r="1.35"/><circle cx="488.3" cy="317.2" r="1.35"/><circle cx="490.3" cy="317.2" r="1.35"/></g>
<path d="M412.7 365.4 L436.4 364.6 L439.1 361.4 L443.6 356.8 L448.2 353.7 L450 351.4 L452.7 344.1 L455.5 337.6 L458.2 335 L460.9 328.6 L463.6 323.2 L466.5 319.6 L468.2 318.6 L472.7 317.7 L483.6 317.2" stroke="#0a0ae6" stroke-width="3.1" fill="none" stroke-linejoin="round" stroke-linecap="round"/>
</g>
<path d="M402 279.8h4.5M507.5 279.8h-3M402 303.52h4.5M507.5 303.52h-3M402 327.24h4.5M507.5 327.24h-3M402 350.96h4.5M507.5 350.96h-3M402 374.68h4.5M507.5 374.68h-3M402 398.4h4.5M507.5 398.4h-3M406.2 402.5v-3M406.2 277.5v3M425.9 402.5v-3M425.9 277.5v3M445.6 402.5v-3M445.6 277.5v3M465.3 402.5v-3M465.3 277.5v3M485 402.5v-3M485 277.5v3M504.7 402.5v-3M504.7 277.5v3" stroke="#8a8a8a" stroke-width="0.8" fill="none"/>
<text transform="translate(402.6 282.35) scale(0.82 1)" text-anchor="end" font-size="7.1">69</text>
<text transform="translate(402.6 306.07) scale(0.82 1)" text-anchor="end" font-size="7.1">59</text>
<text transform="translate(402.6 329.79) scale(0.82 1)" text-anchor="end" font-size="7.1">49</text>
<text transform="translate(402.6 353.51) scale(0.82 1)" text-anchor="end" font-size="7.1">39</text>
<text transform="translate(402.6 377.23) scale(0.82 1)" text-anchor="end" font-size="7.1">29</text>
<text transform="translate(402.6 400.95) scale(0.82 1)" text-anchor="end" font-size="7.1">19</text>
<text transform="translate(406.2 411) scale(0.82 1)" text-anchor="middle" font-size="7.1">19</text>
<text transform="translate(425.9 411) scale(0.82 1)" text-anchor="middle" font-size="7.1">29</text>
<text transform="translate(445.6 411) scale(0.82 1)" text-anchor="middle" font-size="7.1">39</text>
<text transform="translate(465.3 411) scale(0.82 1)" text-anchor="middle" font-size="7.1">49</text>
<text transform="translate(485 411) scale(0.82 1)" text-anchor="middle" font-size="7.1">59</text>
<text transform="translate(504.7 411) scale(0.82 1)" text-anchor="middle" font-size="7.1">69</text>
<text transform="translate(455.3 419.6) scale(0.82 1)" text-anchor="middle" font-size="7.1">Normal distribution</text>
<text transform="translate(394.2 340) rotate(-90) scale(1 0.82)" text-anchor="middle" font-size="7.1">Humidity Ratio</text>
<g clip-path="url(#L6)">
<rect x="509.5" y="276" width="43.7" height="17.5" fill="#fff" stroke="#8a8a8a" stroke-width="1"/>
<text transform="translate(514 283.6) scale(0.82 1)" text-anchor="start" font-size="7.1">Distribution</text>
<path d="M510.9 288.8h6.2" stroke="#8a8aa8" stroke-width="1"/>
<text transform="translate(519.2 291) scale(0.82 1)" text-anchor="start" font-size="7.1">Normal</text>
</g>
<text transform="translate(388 276.4) scale(0.82 1)" text-anchor="middle" font-size="7.1">(X 0.0001)</text>
<text transform="translate(507.2 416.4) scale(0.82 1)" text-anchor="middle" font-size="7.1">(X 0.0001)</text></g><text transform="translate(271.6 228.9) scale(0.9 1)" text-anchor="middle" font-family="'Liberation Serif', serif" font-size="16" fill="#000">(<tspan font-weight="bold">a</tspan>)</text><text transform="translate(271.7 438.4) scale(0.9 1)" text-anchor="middle" font-family="'Liberation Serif', serif" font-size="16" fill="#000">(<tspan font-weight="bold">b</tspan>)</text></svg>
</body></html>
